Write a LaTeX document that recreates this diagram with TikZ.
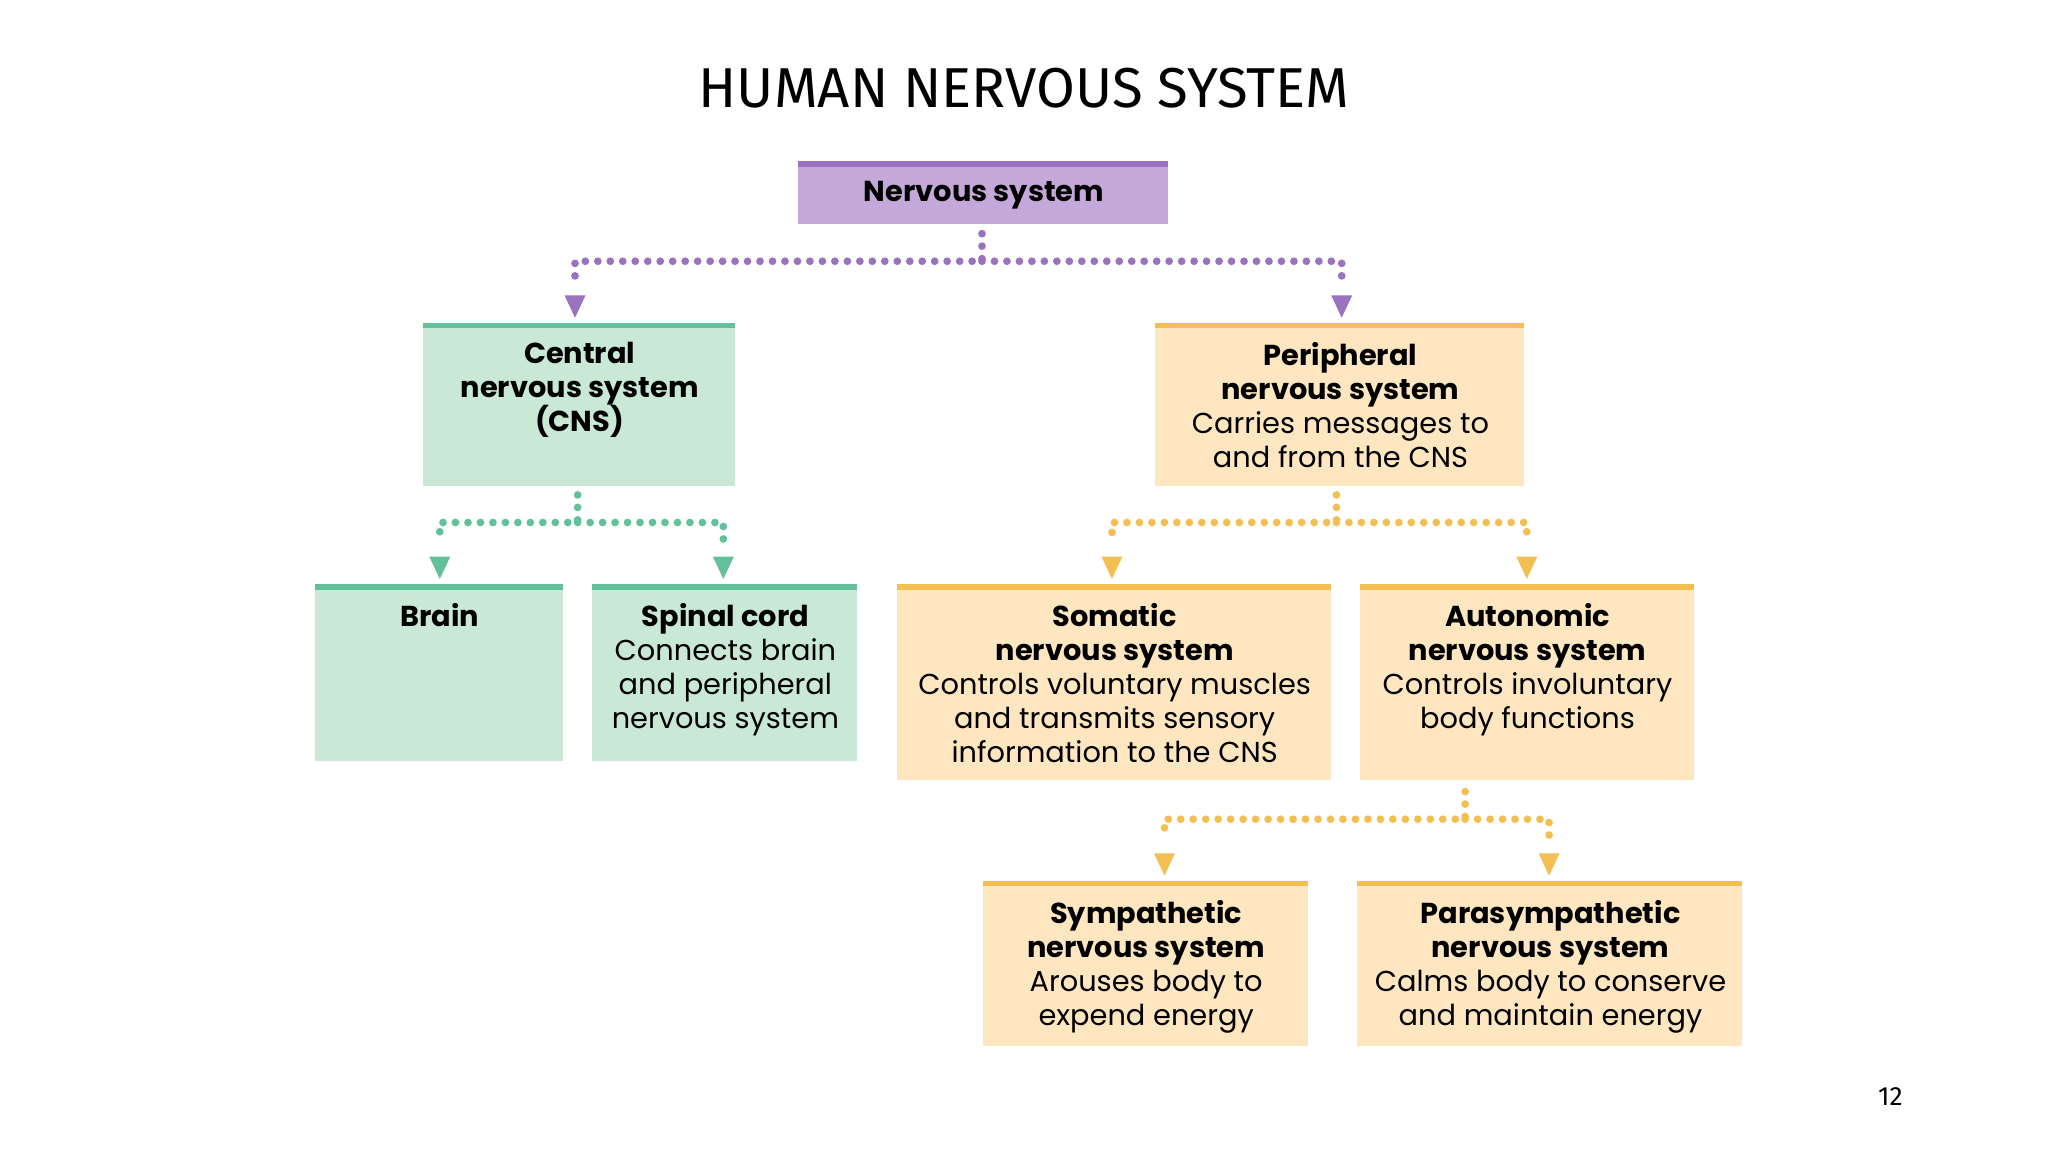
\documentclass[tikz,border=0pt]{standalone}
\usepackage{fontspec}
\setmainfont{Poppins}
\newfontfamily\titlefont{Fira Sans}
\usetikzlibrary{arrows.meta}
\definecolor{pf}{HTML}{C4A8DA}\definecolor{pt}{HTML}{9A72BF}
\definecolor{gf}{HTML}{C9E8D6}\definecolor{gt}{HTML}{62C19B}
\definecolor{of}{HTML}{FDE6C0}\definecolor{ot}{HTML}{F4BF52}
\newcommand{\mybox}[8]{%
 \path[fill=#6] (#2,#3) rectangle (#4,#5);
 \draw[#7,line width=1.6pt] (#2,#3) -- (#4,#3);
 \node[inner sep=0,minimum width=(#4-#2)*0.13128mm,minimum height=(#5-#3)*0.13128mm,anchor=north west] (#1) at (#2,#3) {};
 \node[anchor=north,align=center,inner sep=0,font=\fontsize{8.2}{9.7}\selectfont] at ([yshift=-1.6mm]#1.north) {#8};}
\tikzset{dots/.style={line width=2.2pt,line cap=round,dash pattern=on 0pt off 3.55pt,#1}}
\newcommand{\tri}[3]{\fill[#3] (#1-8,#2-17) -- (#1+8,#2-17) -- (#1,#2) -- cycle;}
\begin{document}
\begin{tikzpicture}[x=0.13128mm,y=-0.13128mm]
\useasboundingbox[fill=white] (0,0) rectangle (1560,877.5);
\node[font=\titlefont\fontsize{16}{20}\selectfont] (title) at (780,67) {HUMAN NERVOUS SYSTEM};
\node[font=\titlefont\fontsize{7.5}{9}\selectfont] (pg) at (1440,835) {12};
\mybox{ns}{608}{125}{890}{171}{pf}{pt}{\textbf{Nervous system}}
\mybox{cns}{322}{248}{560}{370}{gf}{gt}{\textbf{Central}\\\textbf{nervous system}\\\textbf{(CNS)}}
\mybox{pns}{880}{248}{1161}{370}{of}{ot}{\textbf{Peripheral}\\\textbf{nervous system}\\Carries messages to\\and from the CNS}
\mybox{brain}{240}{447}{429}{580}{gf}{gt}{\textbf{Brain}}
\mybox{spinal}{451}{447}{653}{580}{gf}{gt}{\textbf{Spinal cord}\\Connects brain\\and peripheral\\nervous system}
\mybox{som}{683}{447}{1014}{594}{of}{ot}{\textbf{Somatic}\\\textbf{nervous system}\\Controls voluntary muscles\\and transmits sensory\\information to the CNS}
\mybox{aut}{1036}{447}{1290}{594}{of}{ot}{\textbf{Autonomic}\\\textbf{nervous system}\\Controls involuntary\\body functions}
\mybox{sym}{749}{673}{996}{797}{of}{ot}{\textbf{Sympathetic}\\\textbf{nervous system}\\Arouses body to\\expend energy}
\mybox{para}{1034}{673}{1327}{797}{of}{ot}{\textbf{Parasympathetic}\\\textbf{nervous system}\\Calms body to conserve\\and maintain energy}
% connectors
\coordinate (s1) at (748,178); \coordinate (b1) at (748,199); \coordinate (t1a) at (438,214); \coordinate (t1b) at (1022,214);
\draw[dots=pt] (s1) -- (b1) -| (t1a); \draw[dots=pt] (b1) -| (t1b);
\tri{438}{242}{pt}\tri{1022}{242}{pt}
\coordinate (s2) at (440,377); \coordinate (b2) at (440,398); \coordinate (t2a) at (335,412); \coordinate (t2b) at (551,412);
\draw[dots=gt] (s2) -- (b2) -| (t2a); \draw[dots=gt] (b2) -| (t2b);
\tri{335}{441}{gt}\tri{551}{441}{gt}
\coordinate (s3) at (1018,377); \coordinate (b3) at (1018,398); \coordinate (t3a) at (847,412); \coordinate (t3b) at (1163,412);
\draw[dots=ot] (s3) -- (b3) -| (t3a); \draw[dots=ot] (b3) -| (t3b);
\tri{847}{441}{ot}\tri{1163}{441}{ot}
\coordinate (s4) at (1116,603); \coordinate (b4) at (1116,624); \coordinate (t4a) at (887,638); \coordinate (t4b) at (1180,638);
\draw[dots=ot] (s4) -- (b4) -| (t4a); \draw[dots=ot] (b4) -| (t4b);
\tri{887}{667}{ot}\tri{1180}{667}{ot}
\end{tikzpicture}
\end{document}
